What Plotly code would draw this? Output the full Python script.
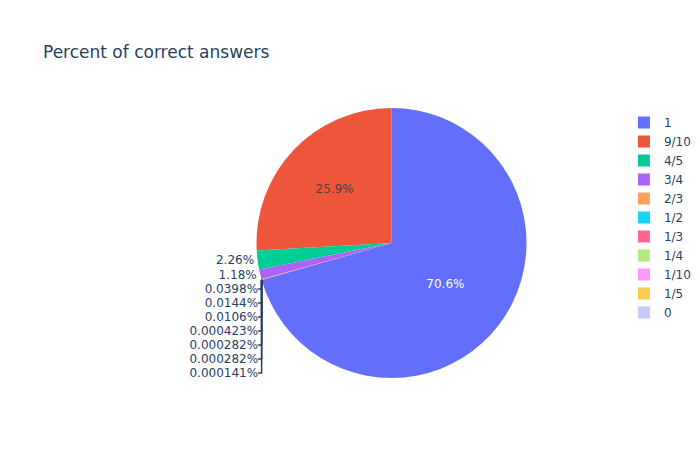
import plotly.graph_objects as go

labels = ["1", "9/10", "4/5", "3/4", "2/3", "1/2", "1/3", "1/4", "1/10", "1/5", "0"]
counts = [500700, 183690, 16028, 8369, 282, 102, 75, 3, 2, 2, 1]

fig = go.Figure(go.Pie(labels=labels, values=counts))
fig.update_layout(
    title=dict(text="Percent of correct answers"),
    font=dict(family="DejaVu Sans"),
    width=700,
    height=450,
)
fig.write_html("out.html")
